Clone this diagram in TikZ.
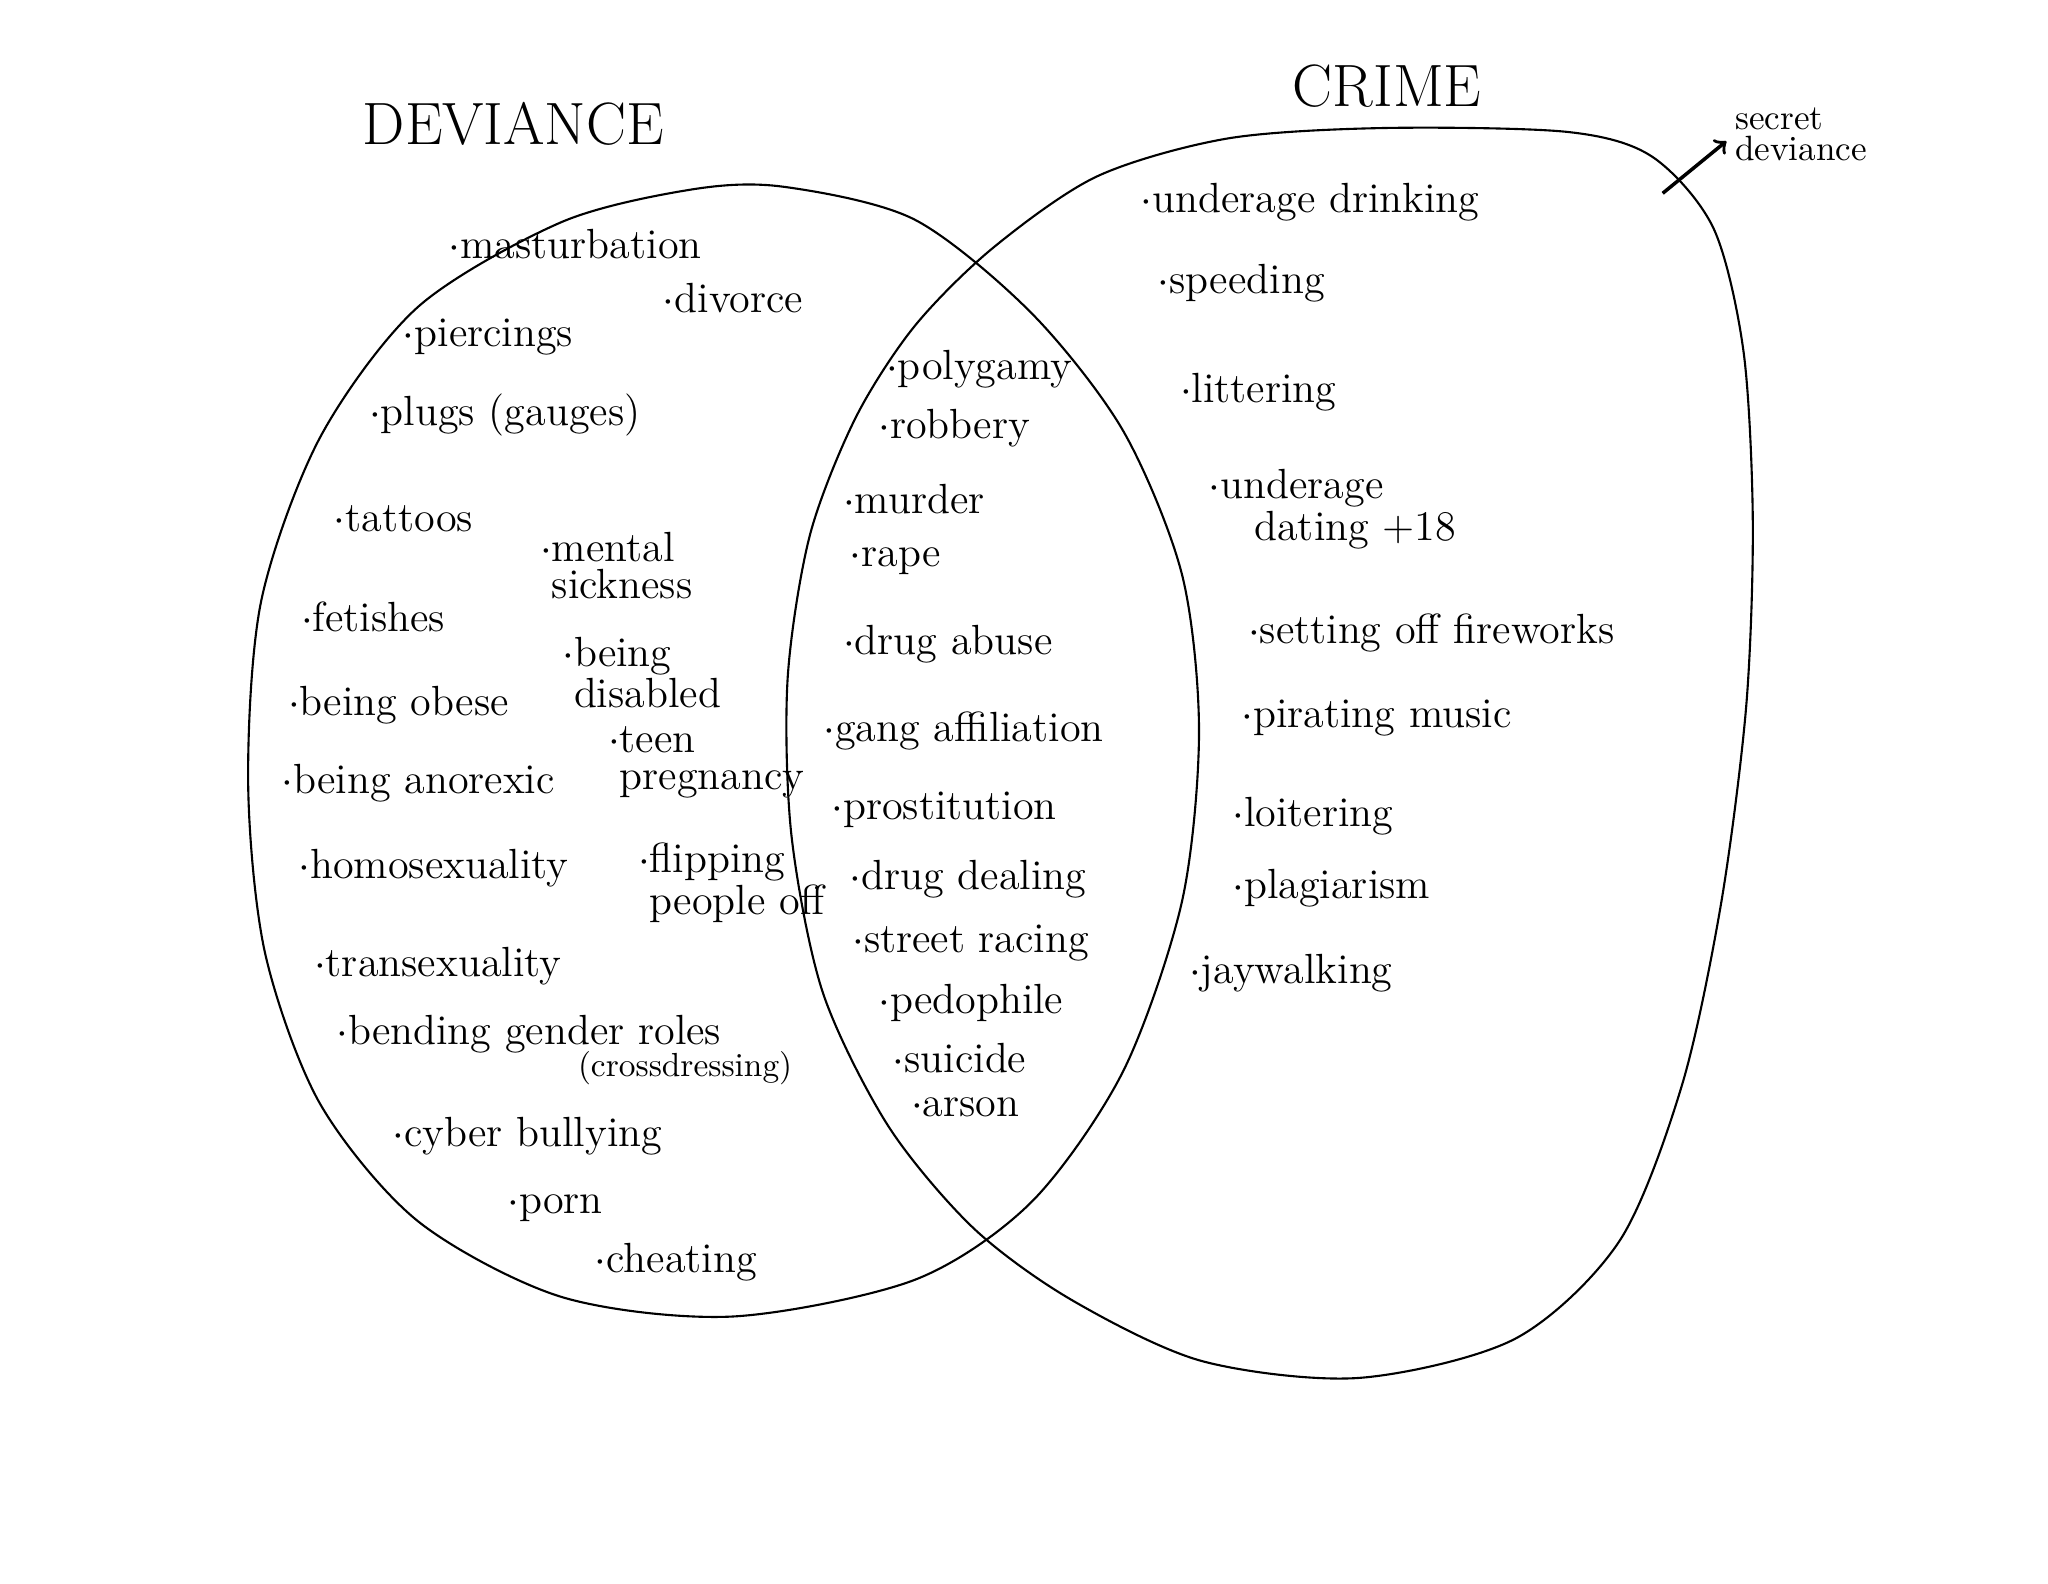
\documentclass[tikz,border=0pt]{standalone}
\usepackage{amsmath}
\usepackage{xcolor}
\usepackage{tikz}
\usetikzlibrary{arrows,positioning}

\tikzset{
  item/.style={anchor=west, inner sep=0pt, align=left, font=\fontsize{12}{10.5}\selectfont},
  title/.style={inner sep=0pt, font=\fontsize{17}{19}\selectfont},
  ring/.style={black, line width=0.6pt}
}
\newcommand{\bul}{$\cdot$}
\newcommand{\ind}{\phantom{$\cdot$}}

\begin{document}
\begin{tikzpicture}[x=0.01306cm, y=-0.01306cm]
\useasboundingbox (0,0) rectangle (1568,1212);

% Titles
\node[title] (deviance) at (393,95) {DEVIANCE};
\node[title] (crime) at (1062,66) {CRIME};
\node[anchor=west, inner sep=0pt, align=left, font=\fontsize{10}{9}\selectfont] (secret) at (1328,103) {secret\\deviance};

% Circles
\draw[ring] plot[smooth cycle] coordinates {(600,143) (700,168) (790,240) (860,330) (905,440) (918,560) (905,690) (860,820) (790,920) (700,980) (560,1008) (430,993) (320,935) (245,845) (203,730) (190,600) (200,460) (245,335) (320,235) (430,170) (530,145)};
\draw[ring] plot[smooth cycle] coordinates {(700,250) (760,190) (840,135) (940,106) (1060,98) (1200,101) (1265,120) (1312,175) (1335,270) (1342,400) (1337,540) (1318,690) (1288,830) (1240,950) (1160,1025) (1040,1055) (920,1042) (820,995) (745,940) (680,862) (630,760) (606,640) (603,520) (620,410) (655,320)};

% Arrow
\coordinate (tail) at (1273,148);
\draw[->, line width=1pt, shorten >=3pt] (tail) -- (secret.west);

% Deviance only
\node[item] (mast) at (343,187) {\bul masturbation};
\node[item] (divorce) at (507,228) {\bul divorce};
\node[item] (pierce) at (308,258) {\bul piercings};
\node[item] (plugs) at (282,318) {\bul plugs (gauges)};
\node[item] (tattoo) at (255,397) {\bul tattoos};
\node[item] (mental) at (413,433) {\bul mental\\\ind sickness};
\node[item] (fetish) at (230,472) {\bul fetishes};
\node[item] (obese) at (220,540) {\bul being obese};
\node[item] (disabled) at (430,515) {\bul being\\\ind disabled};
\node[item] (anorexic) at (215,600) {\bul being anorexic};
\node[item] (teen) at (465,584) {\bul teen\\\ind pregnancy};
\node[item] (homo) at (228,665) {\bul homosexuality};
\node[item] (flip) at (488,676) {\bul flipping\\\ind people off};
\node[item] (trans) at (240,740) {\bul transexuality};
\node[item] (bend) at (257,792) {\bul bending gender roles};
\node[item, font=\fontsize{9.5}{10}\selectfont] (cross) at (442,818) {(crossdressing)};
\node[item] (cyber) at (300,870) {\bul cyber bullying};
\node[item] (porn) at (388,925) {\bul porn};
\node[item] (cheat) at (455,966) {\bul cheating};

% Both
\node[item] (poly) at (678,283) {\bul polygamy};
\node[item] (rob) at (672,328) {\bul robbery};
\node[item] (murder) at (645,382) {\bul murder};
\node[item] (rape) at (650,430) {\bul rape};
\node[item] (abuse) at (645,493) {\bul drug abuse};
\node[item] (gang) at (630,560) {\bul gang affiliation};
\node[item] (prost) at (636,620) {\bul prostitution};
\node[item] (deal) at (650,673) {\bul drug dealing};
\node[item] (racing) at (652,722) {\bul street racing};
\node[item] (pedo) at (672,768) {\bul pedophile};
\node[item] (suicide) at (683,810) {\bul suicide};
\node[item] (arson) at (697,848) {\bul arson};

% Crime only
\node[item] (drink) at (873,155) {\bul underage drinking};
\node[item] (speed) at (886,217) {\bul speeding};
\node[item] (litter) at (903,300) {\bul littering};
\node[item] (dating) at (925,390) {\bul underage\\\ind\hspace{0.8em}dating +18};
\node[item] (fire) at (955,485) {\bul setting off fireworks};
\node[item] (pirate) at (950,550) {\bul pirating music};
\node[item] (loiter) at (943,625) {\bul loitering};
\node[item] (plag) at (943,680) {\bul plagiarism};
\node[item] (jay) at (910,745) {\bul jaywalking};

\end{tikzpicture}
\end{document}
